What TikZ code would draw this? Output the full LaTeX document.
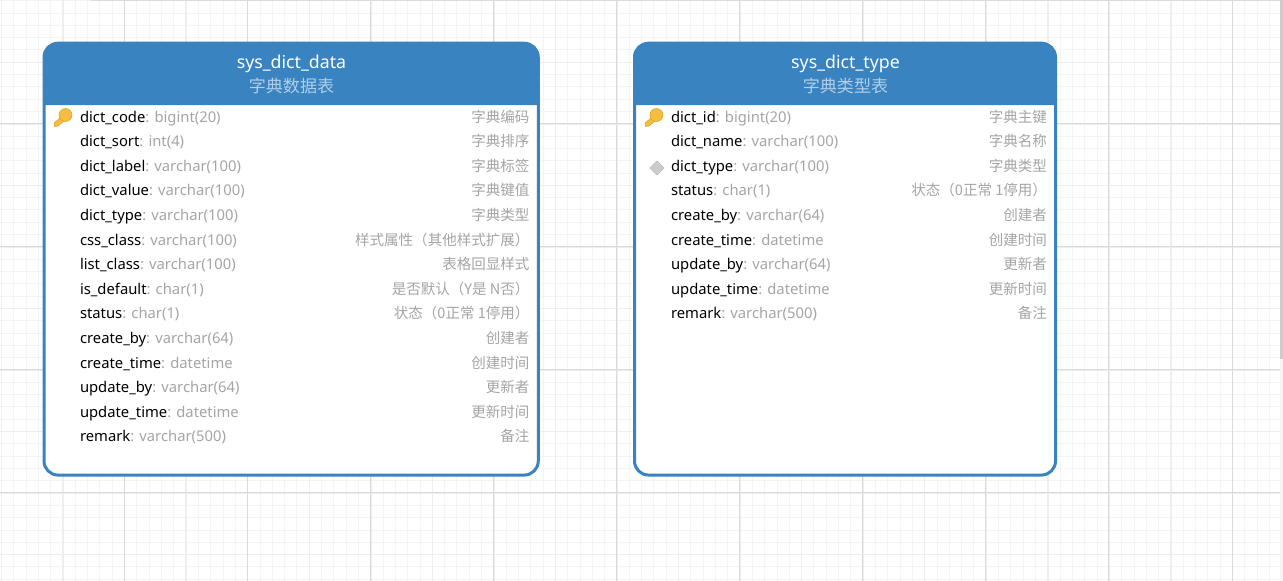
\documentclass[tikz,border=0pt]{standalone}
\usepackage{fontspec}
\usepackage{xcolor}
\usetikzlibrary{positioning,shapes.geometric}
\setmainfont{Noto Sans}
\newfontfamily\cjk{Noto Sans CJK SC}
\definecolor{HeadBlue}{RGB}{56,131,192}
\definecolor{SubBlue}{RGB}{176,206,232}
\definecolor{TypeGray}{RGB}{165,165,165}
\definecolor{GridMinor}{RGB}{244,244,244}
\definecolor{GridMedium}{RGB}{238,238,238}
\definecolor{GridMajor}{RGB}{218,218,218}
\definecolor{KeyGold}{RGB}{245,190,60}
\definecolor{KeyEdge}{RGB}{222,160,40}
\newcommand{\fld}[2]{#1{\color{TypeGray}: #2}}
\newcommand{\headband}[1]{\fill[HeadBlue] ([yshift=-46.4pt]#1.north west) -- ([yshift=-10.5pt]#1.north west) arc[start angle=180, end angle=90, radius=10.5pt] -- ([xshift=-10.5pt]#1.north east) arc[start angle=90, end angle=0, radius=10.5pt] -- ([yshift=-46.4pt]#1.north east) -- cycle;}
\tikzset{
  card/.style={draw=HeadBlue, line width=2.25pt, rounded corners=10.5pt, fill=white, inner sep=0pt, outer sep=0pt, anchor=north west},
  fieldrow/.style={font=\fontsize{11.1pt}{12pt}\selectfont, inner sep=0pt, outer sep=0pt, text height=13pt, text depth=5.45pt, anchor=west},
  noterow/.style={font=\fontsize{10.9pt}{12pt}\selectfont\cjk, text=TypeGray, inner sep=0pt, outer sep=0pt, text height=13pt, text depth=5.45pt, anchor=east},
  nextfield/.style={below=0pt of #1.south west, anchor=north west},
  nextnote/.style={below=0pt of #1.south east, anchor=north east},
  tabletitle/.style={font=\fontsize{13.3pt}{14pt}\selectfont, text=white, inner sep=0pt},
  tablesub/.style={font=\fontsize{12.8pt}{14pt}\selectfont\cjk, text=SubBlue, inner sep=0pt},
  keybit/.style={fill=KeyGold, draw=KeyEdge, line width=0.4pt},
  indexmark/.style={diamond, fill=black!20, draw=black!28, inner sep=0pt, minimum size=10.5pt, line width=0.4pt}
}
\begin{document}
\begin{tikzpicture}[x=0.75pt, y=-0.75pt]
\useasboundingbox (0,0) rectangle (1283,581);
\fill[white] (0,0) rectangle (1283,581);
% background grid
\begin{scope}[line width=0.75pt]
\foreach \k in {0,...,103} {\draw[GridMinor] ({\k*12.31+1.5},0) -- ({\k*12.31+1.5},581);}
\foreach \k in {0,...,47} {\draw[GridMinor] (0,{\k*12.31+0.7}) -- (1280,{\k*12.31+0.7});}
\foreach \k in {0,...,20} {\draw[GridMedium, line width=1.1pt] ({\k*61.55+1.5},0) -- ({\k*61.55+1.5},581);}
\foreach \k in {1,...,9} {\draw[GridMedium, line width=1.1pt] (0,{\k*61.55+0.7}) -- (1280,{\k*61.55+0.7});}
\foreach \k in {1,...,10} {\draw[GridMajor] ({\k*123.1+1},0) -- ({\k*123.1+1},581);}
\foreach \k in {1,...,4} {\draw[GridMajor] (0,{\k*123.1+0.5}) -- (1280,{\k*123.1+0.5});}
\end{scope}
% window edges
\fill[black!14] (91,0) rectangle (1283,1);
\fill[black!4] (1280,0) rectangle (1283,581);
\fill[black!20] (1280,0) rectangle (1283,359);

% sys_dict_data
\node[card, minimum width=370.7pt, minimum height=323.9pt] (data) at (44,43.2) {};
\headband{data}
\node[tabletitle] (datatitle) at (291.5,64) {sys\_dict\_data};
\node[tablesub, below=3.25pt of datatitle] (datasub) {字典数据表};

\node[fieldrow] (d1) at (80,117) {\fld{dict\_code}{bigint(20)}};
\node[fieldrow, nextfield=d1] (d2) {\fld{dict\_sort}{int(4)}};
\node[fieldrow, nextfield=d2] (d3) {\fld{dict\_label}{varchar(100)}};
\node[fieldrow, nextfield=d3] (d4) {\fld{dict\_value}{varchar(100)}};
\node[fieldrow, nextfield=d4] (d5) {\fld{dict\_type}{varchar(100)}};
\node[fieldrow, nextfield=d5] (d6) {\fld{css\_class}{varchar(100)}};
\node[fieldrow, nextfield=d6] (d7) {\fld{list\_class}{varchar(100)}};
\node[fieldrow, nextfield=d7] (d8) {\fld{is\_default}{char(1)}};
\node[fieldrow, nextfield=d8] (d9) {\fld{status}{char(1)}};
\node[fieldrow, nextfield=d9] (d10) {\fld{create\_by}{varchar(64)}};
\node[fieldrow, nextfield=d10] (d11) {\fld{create\_time}{datetime}};
\node[fieldrow, nextfield=d11] (d12) {\fld{update\_by}{varchar(64)}};
\node[fieldrow, nextfield=d12] (d13) {\fld{update\_time}{datetime}};
\node[fieldrow, nextfield=d13] (d14) {\fld{remark}{varchar(500)}};

\node[noterow] (dn1) at (529.5,117) {字典编码};
\node[noterow, nextnote=dn1] (dn2) {字典排序};
\node[noterow, nextnote=dn2] (dn3) {字典标签};
\node[noterow, nextnote=dn3] (dn4) {字典键值};
\node[noterow, nextnote=dn4] (dn5) {字典类型};
\node[noterow, nextnote=dn5] (dn6) {样式属性（其他样式扩展）};
\node[noterow, nextnote=dn6] (dn7) {表格回显样式};
\node[noterow, nextnote=dn7] (dn8) {是否默认（Y是 N否）};
\node[noterow, nextnote=dn8] (dn9) {状态（0正常 1停用）};
\node[noterow, nextnote=dn9] (dn10) {创建者};
\node[noterow, nextnote=dn10] (dn11) {创建时间};
\node[noterow, nextnote=dn11] (dn12) {更新者};
\node[noterow, nextnote=dn12] (dn13) {更新时间};
\node[noterow, nextnote=dn13] (dn14) {备注};

% sys_dict_type
\node[card, minimum width=315.75pt, minimum height=323.9pt] (type) at (634.5,43.2) {};
\headband{type}
\node[tabletitle] (typetitle) at (845.5,64) {sys\_dict\_type};
\node[tablesub, below=3.25pt of typetitle] (typesub) {字典类型表};

\node[fieldrow] (t1) at (671,117) {\fld{dict\_id}{bigint(20)}};
\node[fieldrow, nextfield=t1] (t2) {\fld{dict\_name}{varchar(100)}};
\node[fieldrow, nextfield=t2] (t3) {\fld{dict\_type}{varchar(100)}};
\node[fieldrow, nextfield=t3] (t4) {\fld{status}{char(1)}};
\node[fieldrow, nextfield=t4] (t5) {\fld{create\_by}{varchar(64)}};
\node[fieldrow, nextfield=t5] (t6) {\fld{create\_time}{datetime}};
\node[fieldrow, nextfield=t6] (t7) {\fld{update\_by}{varchar(64)}};
\node[fieldrow, nextfield=t7] (t8) {\fld{update\_time}{datetime}};
\node[fieldrow, nextfield=t8] (t9) {\fld{remark}{varchar(500)}};

\node[noterow] (tn1) at (1047,117) {字典主键};
\node[noterow, nextnote=tn1] (tn2) {字典名称};
\node[noterow, nextnote=tn2] (tn3) {字典类型};
\node[noterow, nextnote=tn3] (tn4) {状态（0正常 1停用）};
\node[noterow, nextnote=tn4] (tn5) {创建者};
\node[noterow, nextnote=tn5] (tn6) {创建时间};
\node[noterow, nextnote=tn6] (tn7) {更新者};
\node[noterow, nextnote=tn7] (tn8) {更新时间};
\node[noterow, nextnote=tn8] (tn9) {备注};

% key icons
\foreach \cx in {65.5,656.5} {
  \draw[keybit, line cap=round] (\cx-3,116) -- (\cx-11.5,123) -- (\cx-11,126.5) -- (\cx-7.5,126) -- (\cx+1,119) -- cycle;
  \draw[keybit] (\cx,115) circle[radius=6.5];
  \fill[KeyEdge!70] (\cx+1,113.5) circle[radius=1.5];
}
\node[indexmark] (idx) at (657,168) {};
\end{tikzpicture}
\end{document}
